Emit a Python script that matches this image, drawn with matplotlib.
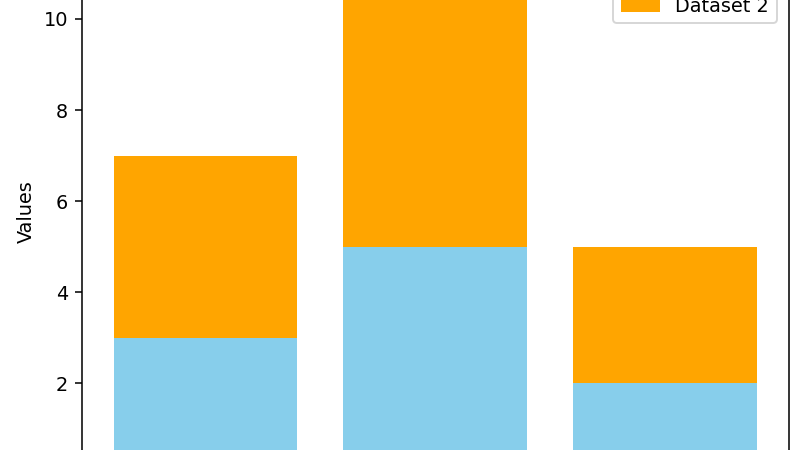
import matplotlib
matplotlib.use("Agg")
import matplotlib.pyplot as plt

categories = ["A", "B", "C"]
dataset1 = [3, 5, 2]
dataset2 = [4, 6, 3]

DPI = 139
fig = plt.figure(figsize=(800 / DPI, 450 / DPI), dpi=DPI)
ax = fig.add_axes([81.7 / 800, (450 - 474.4) / 450, 707 / 800, 526.0 / 450])
ax.bar(categories, dataset1, color="skyblue", label="Dataset 1")
ax.bar(categories, dataset2, bottom=dataset1, color="orange", label="Dataset 2")
ax.set_ylabel("Values")
ax.tick_params(axis="x", labelbottom=False)
ax.legend(loc="lower right", bbox_to_anchor=(776.7 / 800, (450 - 23.3) / 450),
          bbox_transform=fig.transFigure, borderaxespad=0)
fig.savefig("out.png", dpi=DPI)
